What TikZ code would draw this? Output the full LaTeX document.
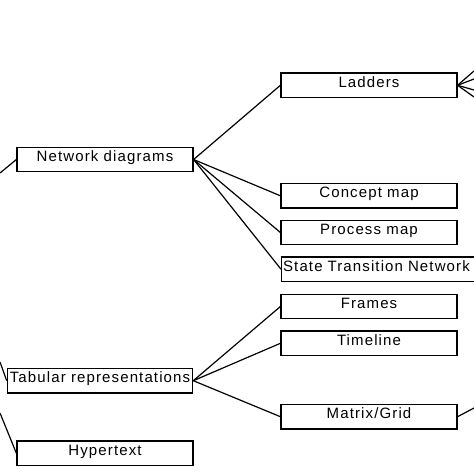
\documentclass[tikz,border=0pt]{standalone}
\usepackage{fontspec}
\setmainfont{Liberation Sans}[LetterSpace=7.5]
\usepackage{tikz}
\usetikzlibrary{positioning}

\begin{document}
\begin{tikzpicture}[x=1pt,y=-1pt,line width=1.2pt,
  box/.style={draw=black,rectangle,minimum width=176pt,minimum height=24.5pt,
    inner xsep=2.5pt,inner ysep=3pt,text height=11pt,text depth=7pt,
    font=\fontsize{15pt}{17pt}\selectfont}]
\useasboundingbox (0,0) rectangle (474,474);
\node [box] (ndiag) at (105,159.5) {Network diagrams};
\node [box,anchor=east] (tabular) at (193.3,380.7) {Tabular representations};
\node [box] (hypertext) at (105,453.3) {Hypertext};
\node [box] (ladders) at (369,85.3) {Ladders};
\node [box] (concept) at (369,195.8) {Concept map};
\node [box] (process) at (369,232.5) {Process map};
\node [box,anchor=west,text width=200pt,align=left,inner xsep=1.5pt] (stn) at (281,269.2) {State Transition Network};
\node [box] (frames) at (369,306.5) {Frames};
\node [box] (timeline) at (369,343.3) {Timeline};
\node [box] (matrix) at (369,416.7) {Matrix/Grid};
\coordinate (inA) at (0,173);
\coordinate (inB) at (0,362);
\coordinate (inC) at (0,413);
\coordinate (outA) at (474,71);
\coordinate (outB) at (474,79);
\coordinate (outC) at (474,90);
\coordinate (outD) at (474,97);
\coordinate (outE) at (474,408);
\draw (inA) -- (ndiag.west);
\draw (inB) -- (tabular.west);
\draw (inC) -- (hypertext.west);
\draw (ndiag.east) -- (ladders.west);
\draw (ndiag.east) -- (concept.west);
\draw (ndiag.east) -- (process.west);
\draw (ndiag.east) -- (stn.west);
\draw (tabular.east) -- (frames.west);
\draw (tabular.east) -- (timeline.west);
\draw (tabular.east) -- (matrix.west);
\draw (ladders.east) -- (outA);
\draw (ladders.east) -- (outB);
\draw (ladders.east) -- (outC);
\draw (ladders.east) -- (outD);
\draw (matrix.east) -- (outE);
\end{tikzpicture}
\end{document}
